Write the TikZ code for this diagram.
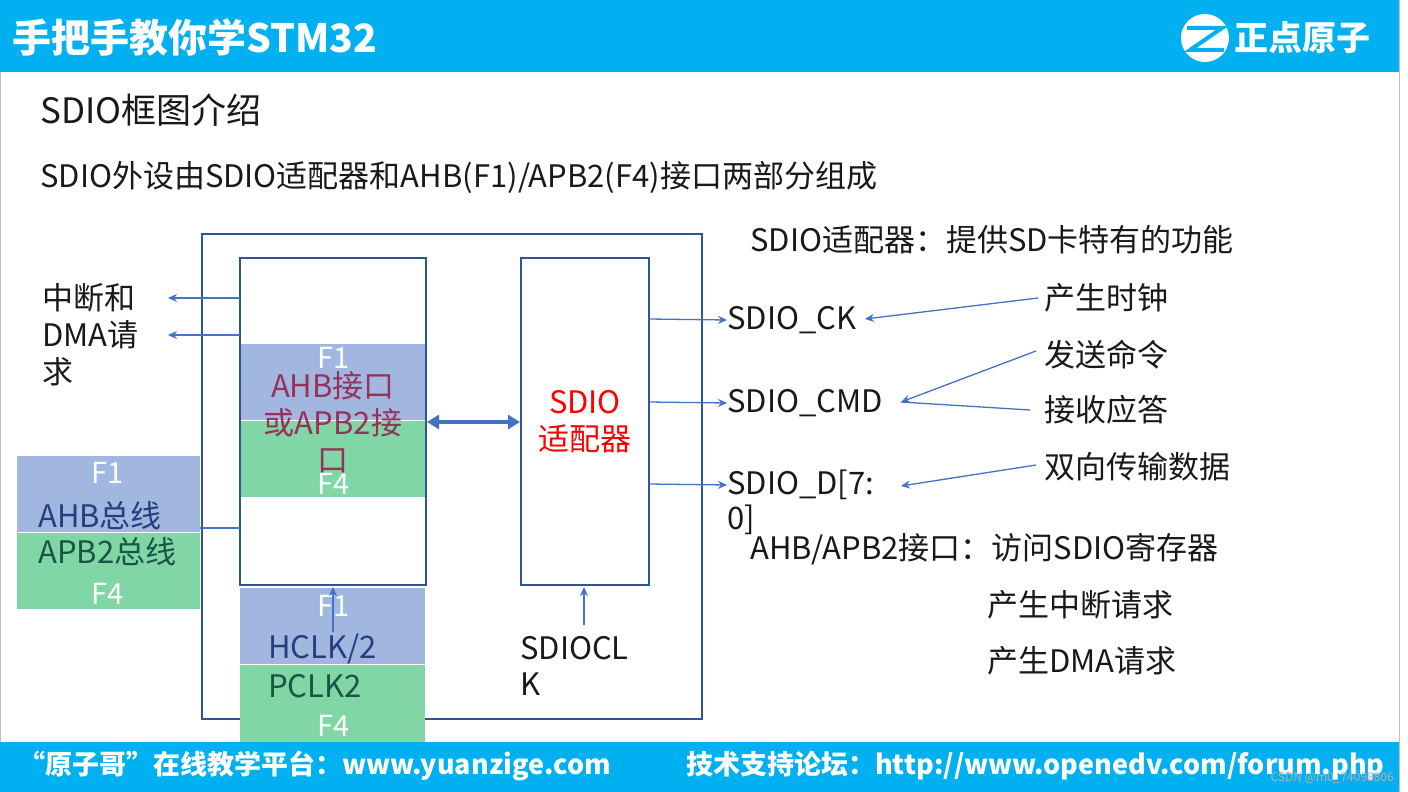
\documentclass[tikz,border=0pt]{standalone}
\usepackage{fontspec}
\setmainfont{Noto Sans CJK SC}
\usetikzlibrary{arrows.meta}
\definecolor{bar}{RGB}{0,176,240}
\definecolor{frame}{RGB}{47,85,151}
\definecolor{arr}{RGB}{68,114,196}
\definecolor{bl}{RGB}{161,183,224}
\definecolor{gr}{RGB}{128,214,164}
\definecolor{mag}{RGB}{150,50,90}
\definecolor{dkb}{RGB}{40,60,130}
\definecolor{dkg}{RGB}{25,85,70}
\tikzset{
 body/.style={font=\fontsize{31}{33}\selectfont,anchor=west,inner sep=0,text=black!90},
 lab/.style={font=\fontsize{29}{31}\selectfont,inner sep=0},
 wf/.style={lab,text=white},
 arw/.style={draw=arr,line width=1.3pt,-{Stealth[length=9pt,width=8pt]}},
 ln/.style={draw=arr,line width=1.3pt},
 box/.style={draw=frame,line width=1.5pt}
}
\begin{document}
\begin{tikzpicture}[x=1pt,y=-1pt]
\useasboundingbox (0,0) rectangle (1408,792);
\fill[white] (0,0) rectangle (1408,792);
\draw[gray!50,line width=1pt] (0.5,0.5) rectangle (1399,791.5);
% top bar
\fill[bar] (0,0) rectangle (1399,72);
\node[anchor=west,inner sep=0,text=white,font=\fontsize{39}{41}\selectfont\bfseries] (title) at (12,38) {手把手教你学STM32};
\fill[white] (1205,38) circle (24);
\draw[bar,line width=4pt] (1187,28) -- (1222,28) -- (1190,50) -- (1224,50);
\node[anchor=west,inner sep=0,text=white,font=\fontsize{34}{36}\selectfont\bfseries] (logo) at (1234,38) {正点原子};
% bottom bar
\fill[bar] (0,742) rectangle (1399,792);
\node[anchor=west,inner sep=0,text=white,font=\fontsize{27}{29}\selectfont\bfseries] (f1) at (18,766) {“原子哥”在线教学平台：www.yuanzige.com};
\node[anchor=west,inner sep=0,text=white,font=\fontsize{27}{29}\selectfont\bfseries] (f2) at (686,766) {技术支持论坛：http://www.openedv.com/forum.php};
\node[anchor=east,inner sep=0,text=gray!60,font=\fontsize{12}{13}\selectfont] (wm) at (1394,778) {CSDN @m0\_74098806};
% headings
\node[body,font=\fontsize{35}{37}\selectfont] (h1) at (40,110) {SDIO框图介绍};
\node[body] (h2) at (40,177) {SDIO外设由SDIO适配器和AHB(F1)/APB2(F4)接口两部分组成};
% main frame
\draw[frame,line width=2.5pt] (202,234) rectangle (702,719);
% left interface box
\fill[bl] (241,344) rectangle (425,420);
\fill[gr] (241,421) rectangle (425,497);
\draw[box] (240,258) rectangle (426,585);
\node[lab,text=mag,align=center,font=\fontsize{31}{37}\selectfont] (ifc) at (333,422) {AHB接口\\或APB2接\\口};
\node[wf] (if1) at (334,358) {F1};
\node[wf] (if4) at (334,484) {F4};
% adapter
\draw[box] (521,258) rectangle (649,585);
\node[lab,text=red,align=center,font=\fontsize{31}{37}\selectfont] (ad) at (585,422) {SDIO\\适配器};
\draw[draw=arr,line width=3.5pt,{Triangle[length=12pt,width=14pt]}-{Triangle[length=12pt,width=14pt]}] (427,422) -- (520,422);
% interrupt/DMA
\coordinate (a1) at (240,298); \coordinate (a1e) at (168,298);
\coordinate (a2) at (240,335); \coordinate (a2e) at (168,335);
\coordinate (a3) at (240,528); \coordinate (a3e) at (166,528);
\draw[arw] (a1) -- (a1e); \draw[arw] (a2) -- (a2e); \draw[arw] (a3) -- (a3e);
\node[body] (irq) at (42,298) {中断和};
\node[body] (irq2) at (42,335) {DMA请};
\node[body] (irq3) at (42,372) {求};
% bus box
\fill[bl] (17,456) rectangle (200,532);
\fill[gr] (17,533) rectangle (200,609);
\node[wf] (b1) at (108,473) {F1};
\node[body,text=dkb] (ahb) at (38,516) {AHB总线};
\node[body,text=dkg] (apb) at (38,552) {APB2总线};
\node[wf] (b4) at (108,594) {F4};
% clock box
\fill[bl] (240,588) rectangle (425,664);
\fill[gr] (240,665) rectangle (425,742);
\node[wf] (c1) at (334,606) {F1};
\node[body,text=dkb] (hclk) at (268,649) {HCLK/2};
\node[body,text=dkg] (pclk) at (268,686) {PCLK2};
\node[wf] (c4) at (334,726) {F4};
\coordinate (ck0) at (333,632); \coordinate (ck1) at (333,587);
\draw[arw] (ck0) -- (ck1);
\coordinate (sc0) at (584,625); \coordinate (sc1) at (584,587);
\draw[arw] (sc0) -- (sc1);
\node[body] (sdioclk) at (520,648) {SDIOCL};
\node[body] (sdioclk2) at (520,684) {K};
% outputs
\node[body] (ck) at (727,320) {SDIO\_CK};
\node[body] (cmd) at (727,403) {SDIO\_CMD};
\node[body] (dat) at (727,485) {SDIO\_D[7:};
\node[body] (dat2) at (727,520) {0]};
\coordinate (o1) at (649,319); \coordinate (o2) at (649,402); \coordinate (o3) at (649,484);
\draw[arw] (o1) -- (ck.west); \draw[arw] (o2) -- (cmd.west); \draw[arw] (o3) -- (dat.west);
\node[body] (sa) at (750,240) {SDIO适配器：提供SD卡特有的功能};
\node[body] (t1) at (1044,298) {产生时钟};
\node[body] (t2) at (1044,355) {发送命令};
\node[body] (t3) at (1044,410) {接收应答};
\node[body] (t4) at (1044,467) {双向传输数据};
\coordinate (p1) at (865,319); \coordinate (p2) at (901,402); \coordinate (p3) at (901,486);
\draw[arw] (1038,298) -- (p1);
\draw[arw] (1036,351) -- (p2);
\draw[ln] (1030,410) -- (p2);
\draw[arw] (1036,465) -- (p3);
\node[body] (ai) at (750,549) {AHB/APB2接口：访问SDIO寄存器};
\node[body] (ai2) at (987,605) {产生中断请求};
\node[body] (ai3) at (987,661) {产生DMA请求};
\end{tikzpicture}
\end{document}
